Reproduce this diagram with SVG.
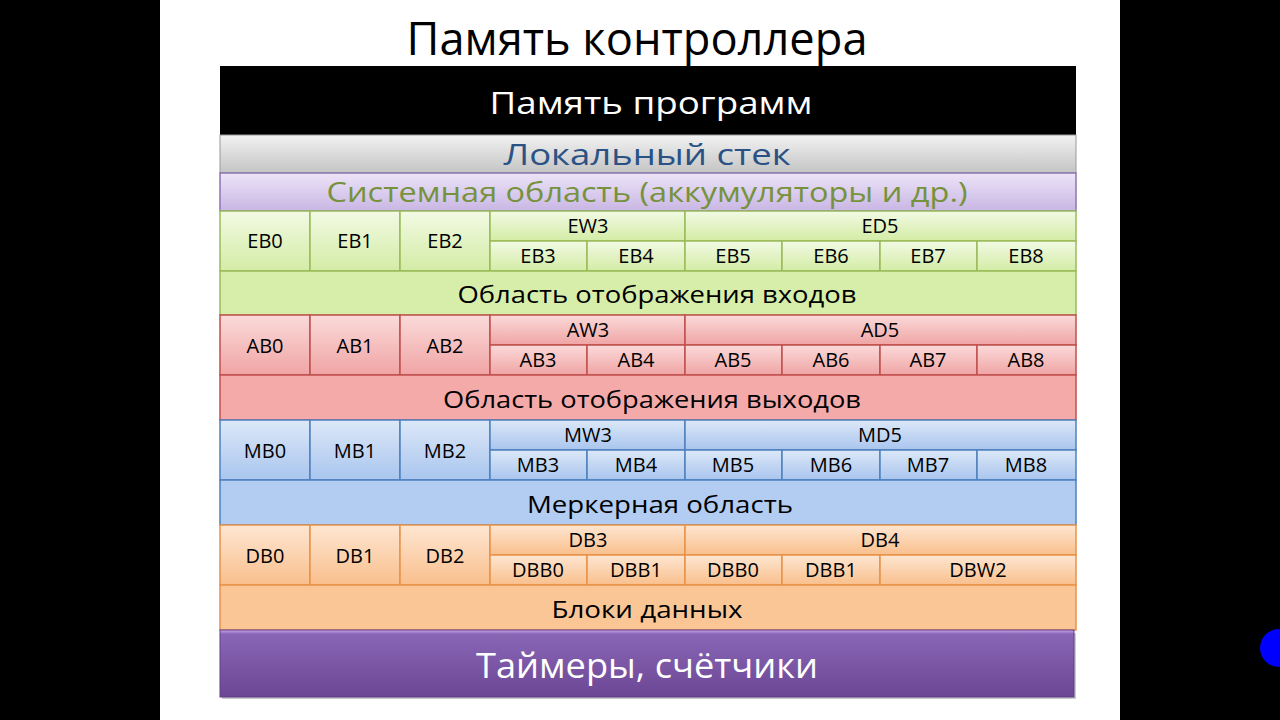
<svg xmlns="http://www.w3.org/2000/svg" width="1280" height="720" viewBox="0 0 1280 720">
<defs>
<linearGradient id="gGray" x1="0" y1="0" x2="0" y2="1"><stop offset="0" stop-color="#f2f2f2"/><stop offset="1" stop-color="#c4c4c4"/></linearGradient>
<linearGradient id="gPurple" x1="0" y1="0" x2="0" y2="1"><stop offset="0" stop-color="#ece4f7"/><stop offset="1" stop-color="#c9b6e4"/></linearGradient>
<linearGradient id="gGreen" x1="0" y1="0" x2="0" y2="1"><stop offset="0" stop-color="#f2fae4"/><stop offset="1" stop-color="#d3eca5"/></linearGradient>
<linearGradient id="gRed" x1="0" y1="0" x2="0" y2="1"><stop offset="0" stop-color="#fbdada"/><stop offset="1" stop-color="#f0a4a4"/></linearGradient>
<linearGradient id="gBlue" x1="0" y1="0" x2="0" y2="1"><stop offset="0" stop-color="#dce8f8"/><stop offset="1" stop-color="#a9c5ee"/></linearGradient>
<linearGradient id="gOrange" x1="0" y1="0" x2="0" y2="1"><stop offset="0" stop-color="#fee6d2"/><stop offset="1" stop-color="#f9bf8c"/></linearGradient>
<linearGradient id="gTimer" x1="0" y1="0" x2="0" y2="1"><stop offset="0" stop-color="#c9a6ee"/><stop offset="0.06" stop-color="#8a66b6"/><stop offset="1" stop-color="#6a4694"/></linearGradient>
<style>
text{font-family:"Open Sans","Noto Sans","DejaVu Sans",sans-serif;text-anchor:middle;}
.c{font-size:20px;fill:#000;}
.bar{font-size:24px;fill:#000;}
.g{fill:url(#gGreen);stroke:#9bbb59;stroke-width:1.5;}
.gb{fill:#d7eeaa;stroke:#9bbb59;stroke-width:1.5;}
.r{fill:url(#gRed);stroke:#c0504d;stroke-width:1.5;}
.rb{fill:#f5aaaa;stroke:#c0504d;stroke-width:1.5;}
.b{fill:url(#gBlue);stroke:#4f81bd;stroke-width:1.5;}
.bb{fill:#b3cdf2;stroke:#4f81bd;stroke-width:1.5;}
.o{fill:url(#gOrange);stroke:#e8924a;stroke-width:1.5;}
.ob{fill:#fbc696;stroke:#e8924a;stroke-width:1.5;}
</style>
</defs>
<rect x="0" y="0" width="1280" height="720" fill="#000"/>
<rect x="160" y="0" width="960" height="720" fill="#fff"/>
<circle cx="1279" cy="648" r="19" fill="#0000ff"/>

<text x="637" y="55" style="font-size:46px" textLength="461" lengthAdjust="spacingAndGlyphs">Память контроллера</text>

<g id="program-memory">
<rect x="220" y="66" width="856" height="69" fill="#000"/>
<text x="651" y="114" style="font-size:31px;fill:#fff" textLength="323" lengthAdjust="spacingAndGlyphs">Память программ</text>
</g>
<g id="local-stack">
<rect x="220" y="135" width="856" height="38" fill="url(#gGray)" stroke="#9a9a9a" stroke-width="1"/>
<text x="647" y="165" style="font-size:29px;fill:#2a5285" textLength="287" lengthAdjust="spacingAndGlyphs">Локальный стек</text>
</g>
<g id="system-area">
<rect x="220" y="173" width="856" height="38" fill="url(#gPurple)" stroke="#8c76b0" stroke-width="1.5"/>
<text x="647" y="202" style="font-size:28px;fill:#76923c" textLength="641" lengthAdjust="spacingAndGlyphs">Системная область (аккумуляторы и др.)</text>
</g>

<g id="input-bytes">
<rect class="g" x="220" y="211" width="90" height="60"/><text class="c" x="265" y="248">EB0</text>
<rect class="g" x="310" y="211" width="90" height="60"/><text class="c" x="355" y="248">EB1</text>
<rect class="g" x="400" y="211" width="90" height="60"/><text class="c" x="445" y="248">EB2</text>
<rect class="g" x="490" y="211" width="195" height="30"/><text class="c" x="588" y="233">EW3</text>
<rect class="g" x="685" y="211" width="391" height="30"/><text class="c" x="880" y="233">ED5</text>
<rect class="g" x="490" y="241" width="97" height="30"/><text class="c" x="538" y="263">EB3</text>
<rect class="g" x="587" y="241" width="98" height="30"/><text class="c" x="636" y="263">EB4</text>
<rect class="g" x="685" y="241" width="97" height="30"/><text class="c" x="733" y="263">EB5</text>
<rect class="g" x="782" y="241" width="98" height="30"/><text class="c" x="831" y="263">EB6</text>
<rect class="g" x="880" y="241" width="97" height="30"/><text class="c" x="928" y="263">EB7</text>
<rect class="g" x="977" y="241" width="99" height="30"/><text class="c" x="1026" y="263">EB8</text>
</g>
<g id="input-area">
<rect class="gb" x="220" y="271" width="856" height="44"/>
<text class="bar" x="657" y="303" textLength="399" lengthAdjust="spacingAndGlyphs">Область отображения входов</text>
</g>

<g id="output-bytes">
<rect class="r" x="220" y="315" width="90" height="60"/><text class="c" x="265" y="353">AB0</text>
<rect class="r" x="310" y="315" width="90" height="60"/><text class="c" x="355" y="353">AB1</text>
<rect class="r" x="400" y="315" width="90" height="60"/><text class="c" x="445" y="353">AB2</text>
<rect class="r" x="490" y="315" width="195" height="30"/><text class="c" x="588" y="337">AW3</text>
<rect class="r" x="685" y="315" width="391" height="30"/><text class="c" x="880" y="337">AD5</text>
<rect class="r" x="490" y="345" width="97" height="30"/><text class="c" x="538" y="367">AB3</text>
<rect class="r" x="587" y="345" width="98" height="30"/><text class="c" x="636" y="367">AB4</text>
<rect class="r" x="685" y="345" width="97" height="30"/><text class="c" x="733" y="367">AB5</text>
<rect class="r" x="782" y="345" width="98" height="30"/><text class="c" x="831" y="367">AB6</text>
<rect class="r" x="880" y="345" width="97" height="30"/><text class="c" x="928" y="367">AB7</text>
<rect class="r" x="977" y="345" width="99" height="30"/><text class="c" x="1026" y="367">AB8</text>
</g>
<g id="output-area">
<rect class="rb" x="220" y="375" width="856" height="45"/>
<text class="bar" x="652" y="408" textLength="418" lengthAdjust="spacingAndGlyphs">Область отображения выходов</text>
</g>

<g id="marker-bytes">
<rect class="b" x="220" y="420" width="90" height="60"/><text class="c" x="265" y="458">MB0</text>
<rect class="b" x="310" y="420" width="90" height="60"/><text class="c" x="355" y="458">MB1</text>
<rect class="b" x="400" y="420" width="90" height="60"/><text class="c" x="445" y="458">MB2</text>
<rect class="b" x="490" y="420" width="195" height="30"/><text class="c" x="588" y="442">MW3</text>
<rect class="b" x="685" y="420" width="391" height="30"/><text class="c" x="880" y="442">MD5</text>
<rect class="b" x="490" y="450" width="97" height="30"/><text class="c" x="538" y="472">MB3</text>
<rect class="b" x="587" y="450" width="98" height="30"/><text class="c" x="636" y="472">MB4</text>
<rect class="b" x="685" y="450" width="97" height="30"/><text class="c" x="733" y="472">MB5</text>
<rect class="b" x="782" y="450" width="98" height="30"/><text class="c" x="831" y="472">MB6</text>
<rect class="b" x="880" y="450" width="97" height="30"/><text class="c" x="928" y="472">MB7</text>
<rect class="b" x="977" y="450" width="99" height="30"/><text class="c" x="1026" y="472">MB8</text>
</g>
<g id="marker-area">
<rect class="bb" x="220" y="480" width="856" height="45"/>
<text class="bar" x="660" y="513" textLength="266" lengthAdjust="spacingAndGlyphs">Меркерная область</text>
</g>

<g id="data-block-bytes">
<rect class="o" x="220" y="525" width="90" height="60"/><text class="c" x="265" y="563">DB0</text>
<rect class="o" x="310" y="525" width="90" height="60"/><text class="c" x="355" y="563">DB1</text>
<rect class="o" x="400" y="525" width="90" height="60"/><text class="c" x="445" y="563">DB2</text>
<rect class="o" x="490" y="525" width="195" height="30"/><text class="c" x="588" y="547">DB3</text>
<rect class="o" x="685" y="525" width="391" height="30"/><text class="c" x="880" y="547">DB4</text>
<rect class="o" x="490" y="555" width="97" height="30"/><text class="c" x="538" y="577">DBB0</text>
<rect class="o" x="587" y="555" width="98" height="30"/><text class="c" x="636" y="577">DBB1</text>
<rect class="o" x="685" y="555" width="97" height="30"/><text class="c" x="733" y="577">DBB0</text>
<rect class="o" x="782" y="555" width="98" height="30"/><text class="c" x="831" y="577">DBB1</text>
<rect class="o" x="880" y="555" width="196" height="30"/><text class="c" x="978" y="577">DBW2</text>
</g>
<g id="data-blocks">
<rect class="ob" x="220" y="585" width="856" height="45"/>
<text class="bar" x="647" y="618" textLength="191" lengthAdjust="spacingAndGlyphs">Блоки данных</text>
</g>

<g id="timers-counters">
<rect x="222" y="633" width="854" height="66" fill="#9a9a9a" opacity="0.5"/>
<rect x="220" y="630" width="854" height="67" fill="url(#gTimer)" stroke="#5e3f86" stroke-width="1"/>
<text x="647" y="678" style="font-size:35px;fill:#fff" textLength="342" lengthAdjust="spacingAndGlyphs">Таймеры, счётчики</text>
</g>
</svg>
